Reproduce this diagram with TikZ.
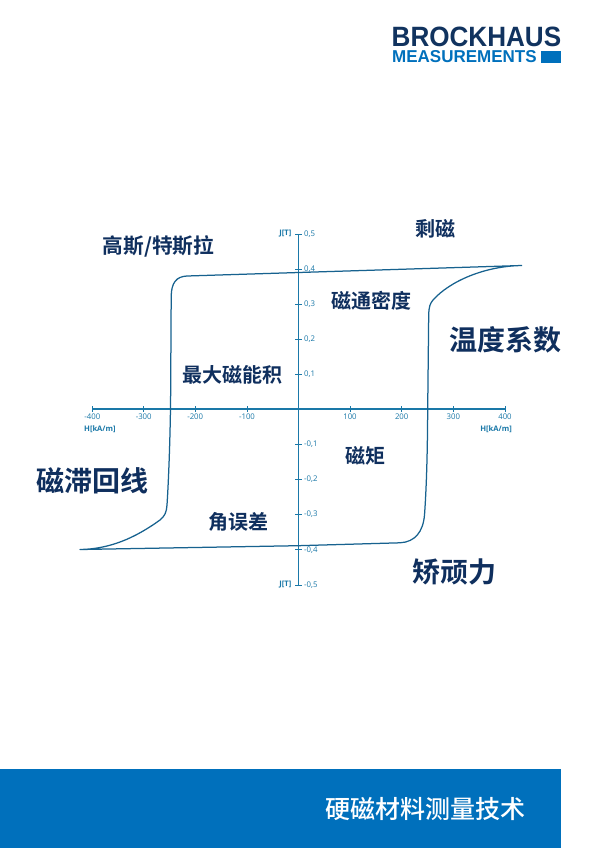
\documentclass[tikz,border=0pt]{standalone}
\usepackage{fontspec}
\setmainfont{Liberation Sans}
\newfontfamily\cjkb{Noto Sans CJK SC Bold}
\newfontfamily\cjkm{Noto Sans CJK SC Medium}
\newfontfamily\tick{Open Sans}
\newfontfamily\logof{Liberation Sans Bold}
\definecolor{navy}{HTML}{0F2F5E}
\definecolor{brand}{HTML}{0070BC}
\definecolor{axisc}{HTML}{1A78A8}
\definecolor{curvec}{HTML}{17628F}
\definecolor{logonavy}{HTML}{11335F}
\tikzset{
  lab/.style={inner sep=0pt,text=navy,font=\cjkb\fontsize{20}{20}\selectfont},
  big/.style={inner sep=0pt,text=navy,font=\cjkb\fontsize{28}{28}\selectfont},
  ticklab/.style={inner sep=0pt,text=axisc,font=\tick\fontsize{7.8}{8}\selectfont},
  unit/.style={inner sep=0pt,text=axisc,font=\tick\bfseries\fontsize{7.6}{8}\selectfont},
  axisline/.style={draw=axisc,line width=1.1pt},
  tickline/.style={draw=axisc,line width=0.9pt}
}
\begin{document}
\begin{tikzpicture}[x=1pt,y=-1pt]
\useasboundingbox (0,0) rectangle (600,848);
\fill[white] (0,0) rectangle (600,848);
% footer
\node[fill=brand,minimum width=561pt,minimum height=79pt,inner sep=0pt,anchor=north west] (band) at (0,769) {};
\node[inner sep=0pt,text=white,font=\cjkm\fontsize{25}{25}\selectfont] (title) at (425,809.5) {硬磁材料测量技术};
% logo
\node[inner sep=0pt,anchor=west,text=logonavy] (brock) at (391.5,37) {\resizebox{169.5pt}{19.5pt}{\logof BROCKHAUS}};
\node[inner sep=0pt,anchor=west,text=brand] (meas) at (392,57) {\resizebox{144.5pt}{12pt}{\logof MEASUREMENTS}};
\node[fill=brand,inner sep=0pt,minimum width=20pt,minimum height=12pt,anchor=west] (sq) at (541,57) {};
% axes
\coordinate (xl) at (92,409);
\coordinate (xr) at (505,409);
\coordinate (yt) at (298.3,234);
\coordinate (yb) at (298.3,585);
\draw[axisline] (xl) -- (xr);
\draw[axisline] (yt) -- (yb);
\foreach \xx/\tx in {92.3/-400,143.7/-300,195.2/-200,247/-100,350/100,401.7/200,453.3/300,505/400}{
  \draw[tickline] (\xx,406) -- (\xx,412);
  \node[ticklab] at (\xx,417) {\tx};
}
\foreach \yy/\ty in {234/{0,5},269.3/{0,4},304.3/{0,3},339.3/{0,2},374.5/{0,1}}{
  \draw[tickline] (295,\yy) -- (301.5,\yy);
  \node[ticklab,anchor=west] at (304,\yy) {\ty};
}
\foreach \yy/\ty in {444.3/{-0,1},479.3/{-0,2},514.5/{-0,3},549.7/{-0,4},585/{-0,5}}{
  \draw[tickline] (295,\yy) -- (301.5,\yy);
  \node[ticklab,anchor=west] at (304,\yy) {\ty};
}
\node[unit,anchor=east] (j1) at (291.5,233.5) {J[T]};
\node[unit,anchor=east] (j2) at (291.5,584.5) {J[T]};
\node[unit,anchor=west] (h1) at (84,429.5) {H[kA/m]};
\node[unit,anchor=east] (h2) at (512,429.5) {H[kA/m]};
% hysteresis
\draw[curvec,line width=1.25pt,line join=round]
  (522,265.5) -- (187,276)
  .. controls (176,276.5) and (171.5,283) .. (171.2,296)
  -- (170.6,400)
  .. controls (170,450) and (168,490) .. (167,505)
  .. controls (166.5,512) and (165,516) .. (160,520)
  .. controls (135,538) and (110,549) .. (80,549.5)
  -- (298,545.7) -- (400,542.8)
  .. controls (415,542) and (423,532) .. (424.5,515)
  .. controls (427,480) and (427.5,440) .. (427.7,409)
  -- (428.7,315)
  .. controls (429,306) and (430,304) .. (433,300)
  .. controls (450,281) and (485,266) .. (522,265.5);
% labels
\node[lab,font=\cjkb\fontsize{20.7}{21}\selectfont] (n1) at (158.5,246) {高斯/特斯拉};
\node[lab] (n2) at (435,229) {剩磁};
\node[lab] (n3) at (371,300.5) {磁通密度};
\node[lab] (n4) at (232.5,375) {最大磁能积};
\node[lab] (n5) at (365,456) {磁矩};
\node[lab] (n6) at (238.5,522) {角误差};
\node[big] (n7) at (505.5,340) {温度系数};
\node[big] (n8) at (92,481) {磁滞回线};
\node[big] (n9) at (454,571.5) {矫顽力};
\end{tikzpicture}
\end{document}
